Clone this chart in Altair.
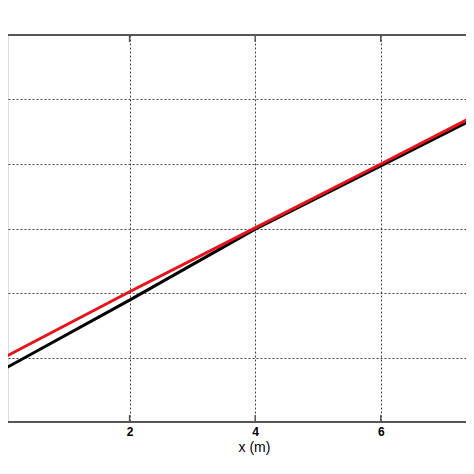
import altair as alt
import pandas as pd

# Data
x_pos = [0.0, 2.0, 4.0, 6.0, 7.5]
red_y = [1.00, 2.02, 3.01, 4.00, 4.75]
black_y = [0.82, 1.89, 2.99, 3.97, 4.71]
x_ticks = [2, 4, 6]
y_grid = [1, 2, 3, 4, 5]
x_title = "x (m)"

df = pd.DataFrame({
    "x": x_pos * 2,
    "y": black_y + red_y,
    "series": ["black"] * len(x_pos) + ["red"] * len(x_pos),
    "order": [0] * len(x_pos) + [1] * len(x_pos),
})
ticks_df = pd.DataFrame({"x": x_ticks})

W, H = 458, 387
FONT = "Liberation Sans"

xscale = alt.Scale(domain=[0.064, 7.357], nice=False, zero=False)
yscale = alt.Scale(domain=[0, 6], nice=False, zero=False)

xaxis = alt.Axis(
    values=x_ticks, format="d", grid=True, gridDash=[2, 2], gridColor="#444444", gridOpacity=1,
    gridWidth=1, ticks=False, domain=False, labelFontWeight="bold", labelFontSize=12,
    labelColor="#000000", labelPadding=4, labelFont=FONT, title=x_title,
    titleFont=FONT, titleFontSize=14, titleFontWeight="normal", titleColor="#000000",
    titlePadding=3, titleX=246, titleAlign="center",
)
yaxis = alt.Axis(
    values=y_grid, grid=True, gridDash=[2, 2], gridColor="#444444", gridOpacity=1,
    gridWidth=1, ticks=False, domain=False, labels=False, title=None,
)

base_lines = alt.Chart(df).mark_line(strokeWidth=3, clip=True).encode(
    x=alt.X("x:Q", scale=xscale, axis=xaxis),
    y=alt.Y("y:Q", scale=yscale, axis=yaxis),
    color=alt.Color("series:N", scale=alt.Scale(domain=["black", "red"], range=["#000000", "#e8121a"]), legend=None),
    detail="series:N",
    order="order:Q",
)
black_line = base_lines.transform_filter(alt.datum.series == "black")
red_line = base_lines.transform_filter(alt.datum.series == "red")

top_border = alt.Chart(ticks_df).mark_rule(color="#555555", strokeWidth=1.5).encode(
    x=alt.value(0), x2=alt.value(W), y=alt.value(0)
)
bottom_border = alt.Chart(ticks_df).mark_rule(color="#555555", strokeWidth=1.5).encode(
    x=alt.value(0), x2=alt.value(W), y=alt.value(H)
)
top_ticks = alt.Chart(ticks_df).mark_rule(color="#555555", strokeWidth=1.5).encode(
    x=alt.X("x:Q", scale=xscale), y=alt.value(0), y2=alt.value(7)
)
bottom_ticks = alt.Chart(ticks_df).mark_rule(color="#555555", strokeWidth=1.5).encode(
    x=alt.X("x:Q", scale=xscale), y=alt.value(H - 7), y2=alt.value(H)
)

chart = alt.layer(
    black_line, red_line, top_border, bottom_border, top_ticks, bottom_ticks
).properties(
    width=W, height=H,
    autosize=alt.AutoSizeParams(type="none"),
    padding={"top": 27, "left": 0, "right": 0, "bottom": 38},
).configure_view(stroke=None).configure(background="white")

chart.save("out.html", embed_options={"renderer": "svg", "actions": False})
